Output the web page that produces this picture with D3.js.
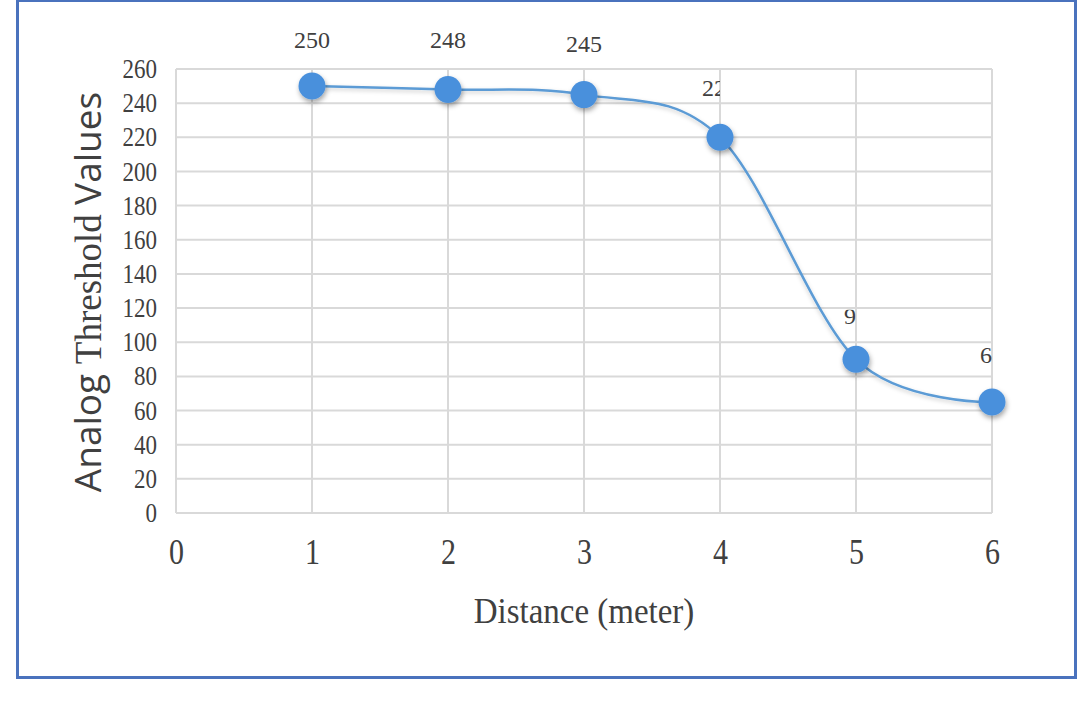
<!DOCTYPE html>
<html><head><meta charset="utf-8">
<script src="https://cdn.jsdelivr.net/npm/d3@7"></script>
<style>html,body{margin:0;padding:0;background:#fff;}
.st{transform-box:fill-box;transform-origin:center;}
</style>
</head><body>
<svg id="chart" width="1088" height="710"></svg>
<script>
const distances = [1, 2, 3, 4, 5, 6];
const thresholds = [250, 248, 245, 220, 90, 65];
const labelTexts = ["250", "248", "245", "220", "90", "65"];
const xTicks = [0, 1, 2, 3, 4, 5, 6];
const yTicks = [0, 20, 40, 60, 80, 100, 120, 140, 160, 180, 200, 220, 240, 260];

const serif = "'Liberation Serif', 'Times New Roman', serif";
const sans = "'Open Sans', 'DejaVu Sans', sans-serif";
const svg = d3.select("#chart");
const x = d3.scaleLinear().domain([0, 6]).range([176, 992]);
const y = d3.scaleLinear().domain([0, 260]).range([513, 69]);

const defs = svg.append("defs");
const f = defs.append("filter").attr("id", "sh").attr("x", "-50%").attr("y", "-50%").attr("width", "200%").attr("height", "200%");
f.append("feDropShadow").attr("dx", 1).attr("dy", 3).attr("stdDeviation", 2.5).attr("flood-color", "#000").attr("flood-opacity", 0.35);
const lf = defs.append("filter").attr("id", "lsh").attr("x", "-10%").attr("y", "-10%").attr("width", "120%").attr("height", "120%");
lf.append("feDropShadow").attr("dx", 0).attr("dy", 2).attr("stdDeviation", 2).attr("flood-color", "#000").attr("flood-opacity", 0.2);

// border
svg.append("rect").attr("x", 17.5).attr("y", 0.5).attr("width", 1058).attr("height", 677)
  .attr("fill", "none").attr("stroke", "#4a72bd").attr("stroke-width", 3);

// grid
const gridColor = "#d9d9d9";
svg.append("g").selectAll("line").data(yTicks).join("line")
  .attr("x1", x(0)).attr("x2", x(6)).attr("y1", d => y(d)).attr("y2", d => y(d))
  .attr("stroke", gridColor).attr("stroke-width", 2);
svg.append("g").selectAll("line").data(xTicks).join("line")
  .attr("x1", d => x(d)).attr("x2", d => x(d)).attr("y1", y(0)).attr("y2", y(260))
  .attr("stroke", gridColor).attr("stroke-width", 2);

// y axis
const yAxis = svg.append("g").attr("transform", `translate(${x(0)},0)`)
  .call(d3.axisLeft(y).tickValues(yTicks).tickSize(0).tickPadding(19));
yAxis.select(".domain").remove();
yAxis.selectAll("text").style("font-family", serif)
  .attr("font-size", 23).attr("fill", "#404040")
  .classed("st", true).style("transform", "scaleY(1.15)");

// x axis
const xAxis = svg.append("g").attr("transform", `translate(0,${y(0)})`)
  .call(d3.axisBottom(x).tickValues(xTicks).tickFormat(d3.format("d")).tickSize(0).tickPadding(27));
xAxis.select(".domain").remove();
xAxis.selectAll("text").style("font-family", serif)
  .attr("font-size", 30).attr("fill", "#404040")
  .classed("st", true).style("transform", "scaleY(1.22)");

// axis titles
svg.append("text").attr("x", 584).attr("y", 622).attr("text-anchor", "middle")
  .style("font-family", serif).attr("font-size", 33).attr("fill", "#404040")
  .classed("st", true).style("transform", "scaleY(1.1)")
  .text("Distance (meter)");
const yt = svg.append("text").attr("transform", "translate(101,292) rotate(-90)").attr("text-anchor", "middle")
  .attr("font-size", 37).attr("fill", "#404040");
yt.append("tspan").style("font-family", sans).text("Analog ");
yt.append("tspan").style("font-family", serif).text("Threshold ");
yt.append("tspan").style("font-family", sans).text("Values");

// line
const pts = distances.map((d, i) => [d, thresholds[i]]);
const line = d3.line().x(d => x(d[0])).y(d => y(d[1])).curve(d3.curveCatmullRom.alpha(0));
svg.append("path").attr("d", line(pts)).attr("fill", "none").attr("stroke", "#5b9bd5")
  .attr("stroke-width", 2.5).attr("filter", "url(#lsh)");

// markers
svg.append("g").selectAll("circle").data(pts).join("circle")
  .attr("cx", d => x(d[0])).attr("cy", d => y(d[1])).attr("r", 13.5)
  .attr("fill", "#4a90dc").attr("filter", "url(#sh)");

// data labels (some clipped at gridlines, as in the original)
const labelBase = [48, 48, 52, 96, 324, 363];
const clipX = [null, null, null, 4, 5, 6];         // clipped right of this x gridline
const clipTop = [null, null, null, 260, 119, 260]; // clipped above this y value
clipX.forEach((cx, i) => {
  if (cx === null) return;
  defs.append("clipPath").attr("id", "c" + i).append("rect")
    .attr("x", x(distances[i]) - 60).attr("y", y(clipTop[i]))
    .attr("width", x(cx) - (x(distances[i]) - 60)).attr("height", 600);
});
const lg = svg.append("g").selectAll("g").data(labelTexts).join("g")
  .attr("clip-path", (d, i) => clipX[i] === null ? null : `url(#c${i})`);
lg.append("text")
  .attr("x", (d, i) => x(distances[i]))
  .attr("y", (d, i) => labelBase[i])
  .attr("text-anchor", "middle")
  .style("font-family", serif).attr("font-size", 24).attr("fill", "#404040")
  .text(d => d);
</script>
</body></html>
